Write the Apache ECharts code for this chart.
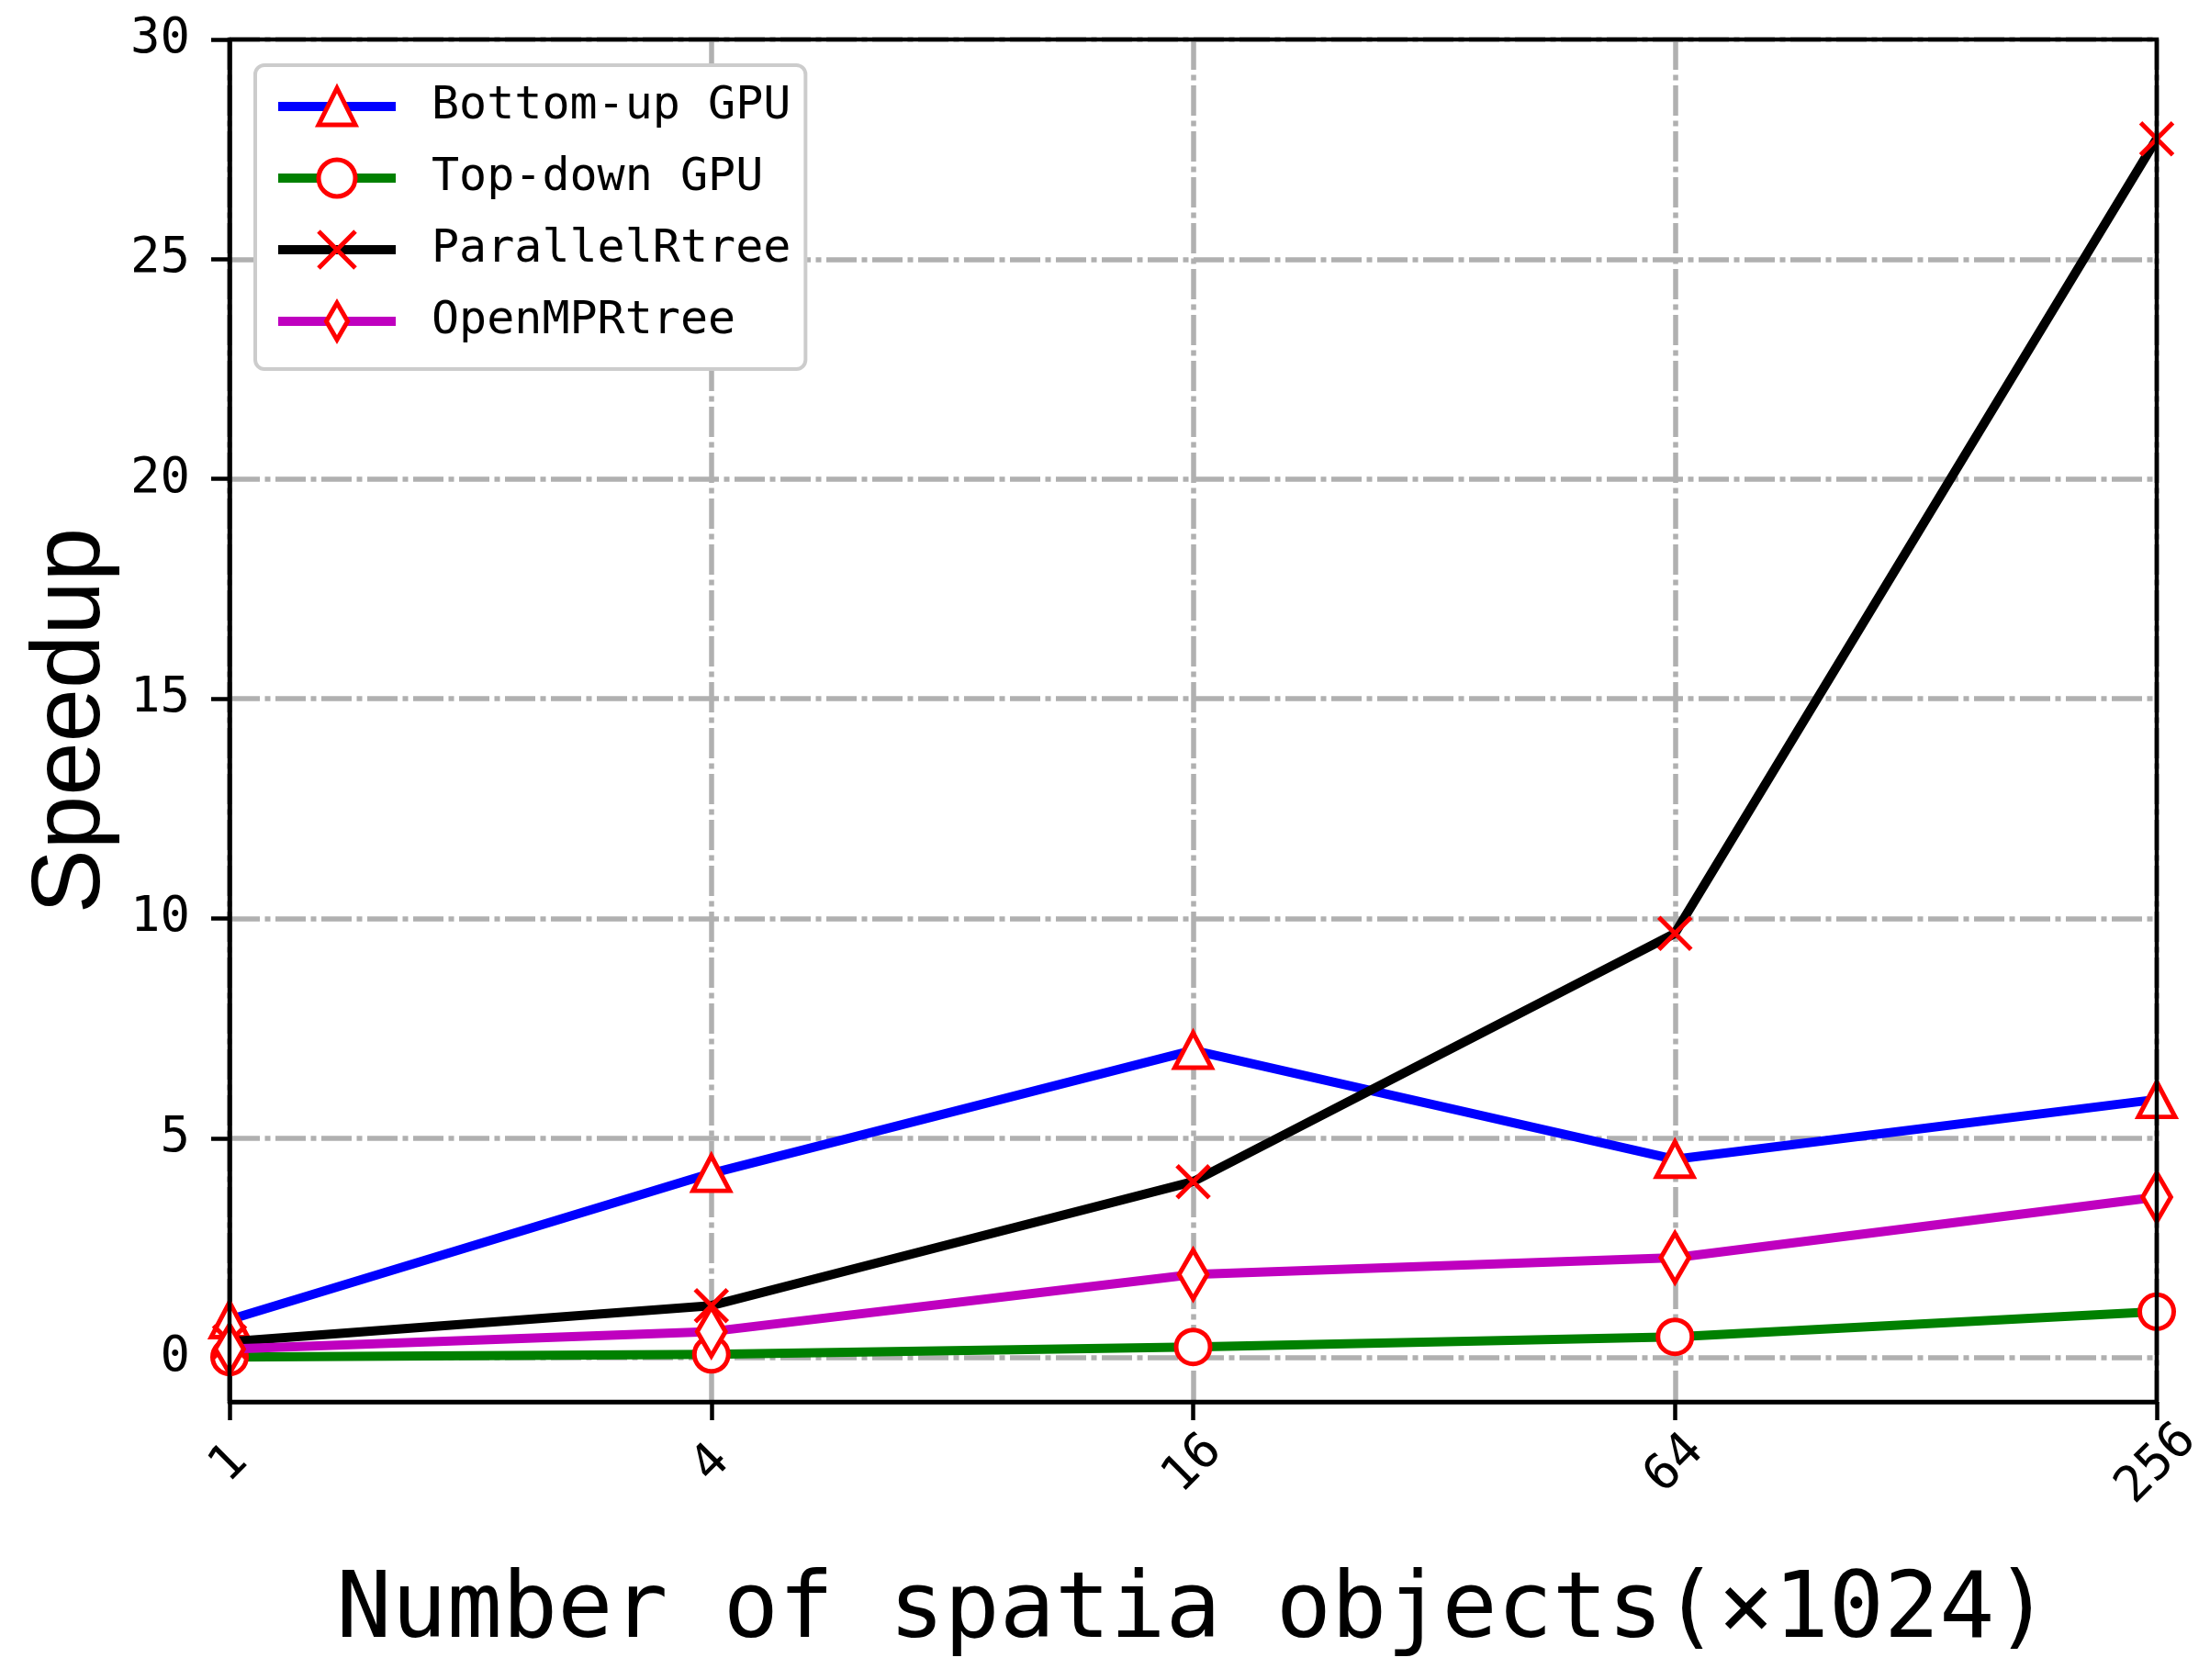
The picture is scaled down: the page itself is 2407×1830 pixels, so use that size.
<!DOCTYPE html>
<html>
<head>
<meta charset="utf-8">
<script src="https://cdn.jsdelivr.net/npm/echarts@6/dist/echarts.min.js"></script>
<style>
html,body{margin:0;padding:0;background:#ffffff;}
#chart{width:2407px;height:1830px;}
</style>
</head>
<body>
<div id="chart"></div>
<script>
// ---- data ----
const categories = ['1', '4', '16', '64', '256'];
const bottomUpGPU = [0.87, 4.2, 7.0, 4.52, 5.88];
const topDownGPU = [0.02, 0.08, 0.25, 0.48, 1.05];
const parallelRtree = [0.37, 1.19, 4.01, 9.66, 27.74];
const openMPRtree = [0.2, 0.6, 1.9, 2.28, 3.66];
const yTicks = [0, 5, 10, 15, 20, 25, 30];
const seriesNames = ['Bottom-up GPU', 'Top-down GPU', 'ParallelRtree', 'OpenMPRtree'];
const xTitle = 'Number of spatia objects(×1024)';
const yTitle = 'Speedup';

// ---- styles ----
const lineColors = ['#0000ff', '#008000', '#000000', '#bf00bf'];
const symbols = [
  'triangle',
  'circle',
  'path://M0,0L100,100M100,0L0,100',
  'path://M0,0L0,0M100,100L100,100M50,0L79,50L50,100L21,50Z'
];
const symbolSizes = [[40, 38], 37, 35, 53];
const seriesData = [bottomUpGPU, topDownGPU, parallelRtree, openMPRtree];

const gridLine = { color: '#b0b0b0', width: 5.5, type: [33, 5.5, 6, 5.5], cap: 'butt' };
const markerStyle = { color: '#ffffff', borderColor: '#ff0000', borderWidth: 5 };
const monoFont = 'DejaVu Sans Mono';

const chart = echarts.init(document.getElementById('chart'), null, { renderer: 'canvas' });

const option = {
  animation: false,
  backgroundColor: '#ffffff',
  grid: {
    left: 250, right: 58, top: 43, bottom: 303,
    show: true, z: 10,
    backgroundColor: 'transparent',
    borderColor: '#000000', borderWidth: 4.5,
    containLabel: false,
    outerBoundsMode: 'none'
  },
  legend: {
    show: true,
    orient: 'vertical',
    left: 278, top: 71,
    itemWidth: 128, itemHeight: 50, itemGap: 28,
    padding: [20, 16, 27, 20],
    backgroundColor: '#ffffff',
    borderColor: '#cccccc', borderWidth: 4, borderRadius: 10,
    textStyle: { fontFamily: monoFont, fontSize: 50, color: '#000000', lineHeight: 50, padding: [0, 0, 0, 34] },
    itemStyle: { color: '#ffffff', borderColor: '#ff0000', borderWidth: 5 },
    selectedMode: false,
    data: seriesNames.map((n, i) => ({ name: n, lineStyle: { color: lineColors[i], width: 10 } }))
  },
  xAxis: {
    type: 'category',
    data: categories,
    boundaryGap: false,
    axisLine: { show: true, onZero: false, lineStyle: { color: '#000000', width: 4.5 } },
    axisTick: { show: true, length: 20, lineStyle: { color: '#000000', width: 4.5 } },
    axisLabel: {
      rotate: 45, align: 'center', verticalAlign: 'middle', margin: 68,
      fontFamily: monoFont, fontSize: 54, color: '#000000'
    },
    splitLine: { show: true, lineStyle: gridLine },
    name: xTitle,
    nameLocation: 'middle',
    nameGap: 180,
    nameMoveOverlap: false,
    nameTextStyle: { fontFamily: monoFont, fontSize: 100, color: '#000000', lineHeight: 100 }
  },
  yAxis: {
    type: 'value',
    min: -1, max: 30,
    axisLine: { show: true, onZero: false, lineStyle: { color: '#000000', width: 4.5 } },
    axisTick: { show: true, length: 20, lineStyle: { color: '#000000', width: 4.5 }, customValues: yTicks },
    axisLabel: {
      customValues: yTicks, margin: 43,
      fontFamily: monoFont, fontSize: 54, color: '#000000'
    },
    splitLine: { show: true, lineStyle: gridLine },
    name: yTitle,
    nameLocation: 'middle',
    nameGap: 118,
    nameMoveOverlap: false,
    nameTextStyle: { fontFamily: 'Liberation Sans', fontSize: 105, color: '#000000', lineHeight: 105 }
  },
  series: seriesNames.map((n, i) => ({
    name: n,
    type: 'line',
    data: seriesData[i],
    symbol: symbols[i],
    symbolSize: symbolSizes[i],
    showSymbol: true,
    showAllSymbol: true,
    clip: true,
    lineStyle: { color: lineColors[i], width: 10, cap: 'butt', join: 'round' },
    itemStyle: markerStyle,
    emphasis: { disabled: true },
    z: 2 + i
  }))
};

chart.setOption(option);
</script>
</body>
</html>
